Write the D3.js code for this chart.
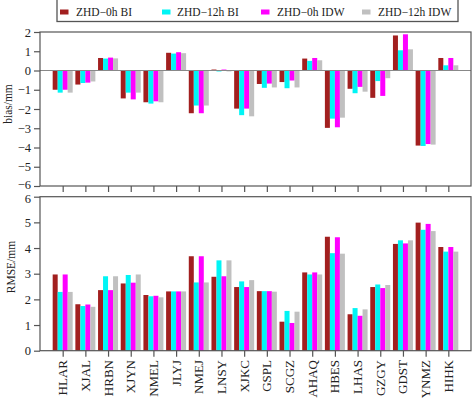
<!DOCTYPE html>
<html><head><meta charset="utf-8">
<script src="https://cdn.jsdelivr.net/npm/d3@7"></script>
<style>body{margin:0;background:#fff}svg{display:block}text{font-family:"Liberation Serif","Times New Roman",serif;fill:#222}</style>
</head><body>
<script>
const stations = ["HLAR","XJAL","HRBN","XJYN","NMEL","JLYJ","NMEJ","LNSY","XJKC","GSPL","SCGZ","AHAQ","HBES","LHAS","GZGY","GDST","YNMZ","HIHK"];
const seriesNames = ["ZHD\u22120h BI","ZHD\u221212h BI","ZHD\u22120h IDW","ZHD\u221212h IDW"];
const seriesColors = ["#a21f1f","#00f5f5","#ff00ff","#c0c0c0"];
const bias0hBI   = [-1.0,-0.73,0.65,-1.45,-1.65,0.92,-2.22,0.05,-1.98,-0.70,-0.60,0.62,-2.98,-0.95,-1.42,1.82,-3.90,0.65];
const bias12hBI  = [-1.15,-0.65,0.62,-1.15,-1.72,0.88,-1.82,-0.05,-2.32,-0.90,-0.92,0.50,-2.50,-1.18,-0.55,1.05,-3.92,0.27];
const bias0hIDW  = [-1.0,-0.63,0.67,-1.50,-1.60,0.95,-2.22,0.05,-1.98,-0.68,-0.52,0.65,-2.95,-0.85,-1.32,1.88,-3.82,0.65];
const bias12hIDW = [-1.15,-0.57,0.63,-1.15,-1.65,0.90,-1.82,-0.05,-2.38,-0.88,-0.88,0.53,-2.45,-1.10,-0.40,1.10,-3.85,0.27];
const rmse0hBI   = [2.97,1.81,2.36,2.62,2.17,2.31,3.68,2.88,2.48,2.32,1.13,3.05,4.44,1.42,2.48,4.16,4.99,4.04];
const rmse12hBI  = [2.29,1.74,2.90,2.95,2.12,2.31,2.66,3.52,2.70,2.32,1.55,2.97,3.80,1.66,2.58,4.30,4.71,3.86];
const rmse0hIDW  = [2.97,1.80,2.36,2.65,2.14,2.31,3.68,2.90,2.48,2.32,1.08,3.05,4.42,1.36,2.44,4.18,4.94,4.04];
const rmse12hIDW = [2.29,1.71,2.90,2.97,2.08,2.31,2.66,3.52,2.75,2.30,1.52,2.97,3.78,1.61,2.56,4.30,4.66,3.86];
const biasTicks = [2,1,0,-1,-2,-3,-4,-5,-6];
const rmseTicks = [0,1,2,3,4,5,6];

const W=474,H=399;
const svg=d3.select("body").append("svg").attr("width",W).attr("height",H);
const axisColor="#555";
const L=40,R=471;
const x=d3.scaleLinear().domain([0,stations.length+1]).range([L,R]);
const inner=d3.scaleBand().domain(d3.range(4)).range([-10,10]);

const yB=d3.scaleLinear().domain([-6,2]).range([186,32]);
const yR=d3.scaleLinear().domain([0,6]).range([350.7,196.7]);

function panel(y, data, ticks, title, titlePos, zeroLine, shiftEdge){
  const g=svg.append("g");
  data.forEach((vals,si)=>{
    g.selectAll(null).data(vals).enter().append("rect")
      .attr("x",(d,i)=>x(i+1)+inner(si))
      .attr("width",inner.bandwidth())
      .attr("y",d=>y(Math.max(0,d)))
      .attr("height",d=>Math.abs(y(d)-y(0)))
      .attr("fill",seriesColors[si]);
  });
  const [y0,y1]=y.range();
  if(zeroLine){
    g.append("line").attr("x1",L).attr("x2",R).attr("y1",y(0)).attr("y2",y(0)).attr("stroke","#888").attr("stroke-width",1);
  }
  g.append("rect").attr("x",L).attr("y",y1).attr("width",R-L).attr("height",y0-y1)
    .attr("fill","none").attr("stroke",axisColor).attr("stroke-width",1.2);
  const ya=g.append("g").attr("transform",`translate(${L},0)`)
    .call(d3.axisLeft(y).tickValues(ticks).tickSize(6).tickPadding(3).tickFormat(d3.format("d")));
  ya.select(".domain").remove();
  ya.selectAll("line").attr("stroke",axisColor).attr("stroke-width",1.2);
  ya.selectAll("text").style("font-size","12.5px").attr("fill","#222")
    .attr("dy",d=>d===shiftEdge[0]?shiftEdge[1]:"0.32em");
  const xa=g.append("g").attr("transform",`translate(0,${y0})`)
    .call(d3.axisBottom(x).tickValues(d3.range(1,stations.length+1)).tickSize(6).tickFormat(""));
  xa.select(".domain").remove();
  xa.selectAll("line").attr("stroke",axisColor).attr("stroke-width",1.2);
  g.append("text").attr("transform",`translate(${titlePos[0]},${titlePos[1]}) rotate(-90)`)
    .attr("text-anchor","middle").style("font-size","11.5px").text(title);
}
panel(yB,[bias0hBI,bias12hBI,bias0hIDW,bias12hIDW],biasTicks,"bias/mm",[12,104],true,[-6,"0.2em"]);
panel(yR,[rmse0hBI,rmse12hBI,rmse0hIDW,rmse12hIDW],rmseTicks,"RMSE/mm",[15,267],false,[6,"0.45em"]);

svg.selectAll(".lab").data(stations).enter().append("text")
  .attr("transform",(d,i)=>`translate(${x(i+1)+4.5},360) rotate(-90)`)
  .attr("text-anchor","end").style("font-size","13px").text(d=>d);

const lg=svg.append("g");
lg.append("rect").attr("x",57).attr("y",-1).attr("width",401).attr("height",22.5)
  .attr("fill","#fff").attr("stroke",axisColor).attr("stroke-width",1.3);
const markX=[60,162,261,362], textX=[76,177,277,378];
seriesNames.forEach((n,i)=>{
  lg.append("rect").attr("x",markX[i]).attr("y",9.5).attr("width",8.5).attr("height",5).attr("fill",seriesColors[i]);
  lg.append("text").attr("x",textX[i]).attr("y",16).style("font-size","11.5px").text(n);
});
</script>
</body></html>
